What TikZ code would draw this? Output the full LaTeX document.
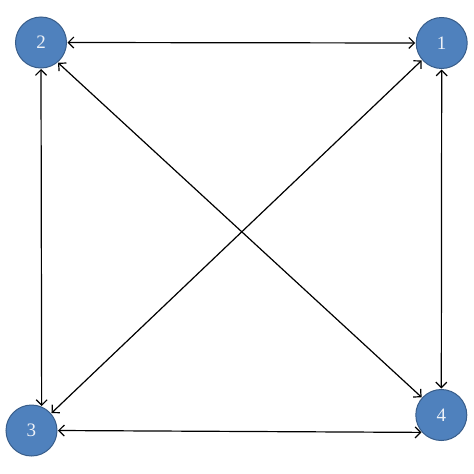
\documentclass[tikz,border=0pt]{standalone}
\usepackage{fontspec}
\setmainfont{Liberation Serif}
\usetikzlibrary{arrows.meta}
\definecolor{nodefill}{HTML}{4F81BD}
\definecolor{nodeline}{HTML}{385D8A}
\definecolor{nodetext}{HTML}{EEF2F8}
\begin{document}
\begin{tikzpicture}[x=1pt,y=1pt,
  vertex/.style={circle,fill=nodefill,draw=nodeline,line width=1pt,minimum size=51pt,inner sep=0pt,text=nodetext,font=\fontsize{19}{19}\selectfont},
  link/.style={line width=1.2pt,{Straight Barb[length=5.5pt,width=11pt]}-{Straight Barb[length=5.5pt,width=11pt]},shorten <=0.5pt,shorten >=0.5pt}]
\useasboundingbox (0,0) rectangle (474,-474);
\node[vertex] (n2) at (41,-42.5) {2};
\node[vertex] (n1) at (441.7,-43) {1};
\node[vertex] (n3) at (31.5,-430.5) {3};
\node[vertex] (n4) at (441.3,-415) {4};
\draw[link] (n2.east) -- (n1.west);
\draw[link] (n1.south) -- (n4.north);
\draw[link] (n2.south) -- (n3.67);
\draw[link] (n3.east) -- (n4.222);
\draw[link] (n2.310) -- (n4.138);
\draw[link] (n1.221) -- (n3.41);
\end{tikzpicture}
\end{document}
